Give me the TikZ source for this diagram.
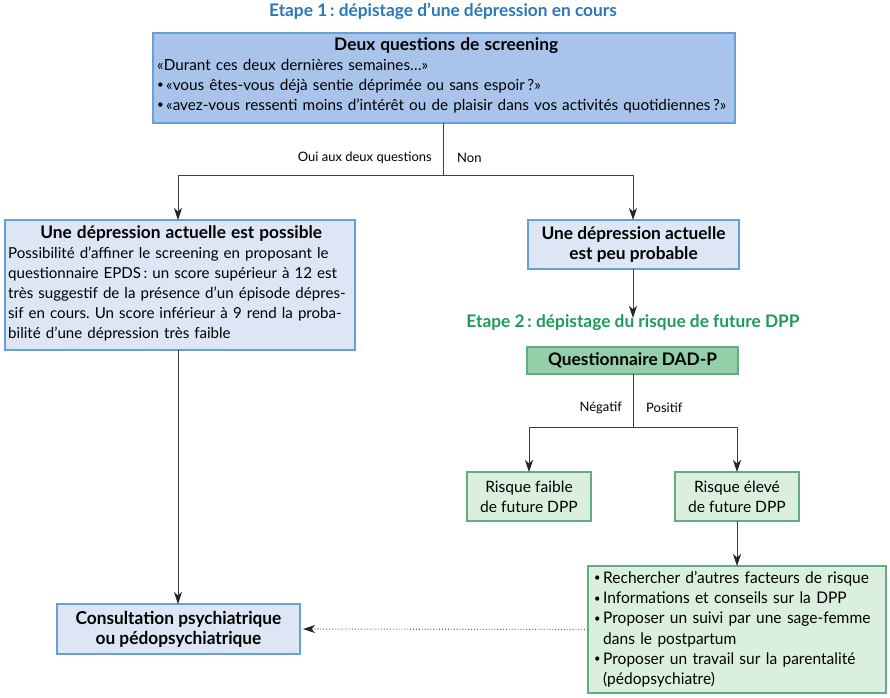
\documentclass[tikz,border=0pt]{standalone}
\usepackage{fontspec}
\setmainfont{Lato}
\newfontfamily\condfont[FakeStretch=0.97]{Lato}
\usetikzlibrary{arrows.meta}
\frenchspacing
\newcommand\bul{\makebox[9pt][l]{\raisebox{1.6pt}{\fontsize{11.5}{11}\selectfont•}}}
\definecolor{tblue}{HTML}{2A78BA}
\definecolor{tgreen}{HTML}{1E9A5C}
\definecolor{bfill}{HTML}{A9C4EA}
\definecolor{bfilll}{HTML}{DDE6F5}
\definecolor{bline}{HTML}{6A9FD6}
\definecolor{gfill}{HTML}{93CFA9}
\definecolor{gfilll}{HTML}{DBEFDF}
\definecolor{gline}{HTML}{62AE80}
\tikzset{
  box/.style={draw, line width=1.4pt, inner sep=0pt, outer sep=0pt},
  bluebox/.style={box, draw=bline, fill=bfill},
  lbluebox/.style={box, draw=bline, fill=bfilll},
  greenbox/.style={box, draw=gline, fill=gfill},
  lgreenbox/.style={box, draw=gline, fill=gfilll},
  conn/.style={line width=0.9pt, draw=black!75},
  arr/.style={conn, -{Stealth[length=12pt,width=8pt,inset=3.5pt,black!85]}},
  lab/.style={inner sep=0pt, font=\fontsize{13}{15}\selectfont},
  ttl/.style={inner sep=0pt, font=\fontsize{17.3}{20}\selectfont\bfseries},
  bigb/.style={font=\fontsize{17.3}{20}\selectfont\bfseries},
}
\begin{document}
\begin{tikzpicture}[x=1pt,y=-1pt]
\useasboundingbox (0,0) rectangle (890,697);
\fill[white] (0,0) rectangle (890,697);

\node[ttl, text=tblue] (t1) at (443,11) {Etape 1\,: dépistage d’une dépression en cours};

\node[bluebox, minimum width=582pt, minimum height=90pt] (q) at (444,78) {};
\node[inner sep=0pt, text width=578pt, align=left, font=\fontsize{15.3}{20}\selectfont, anchor=north west] (qt) at (157,37)
 {{\centering\fontsize{17.3}{19}\selectfont\bfseries Deux questions de screening\par}
 «Durant ces deux dernières semaines…»\\
 \bul«vous êtes-vous déjà sentie déprimée ou sans espoir\,?»\\
 \bul«avez-vous ressenti moins d’intérêt ou de plaisir dans vos activités quotidiennes\,?»};

\node[lbluebox, minimum width=350pt, minimum height=130pt] (poss) at (180,285) {};
\node[inner sep=0pt, text width=346pt, align=left, font=\fontsize{15.1}{20}\selectfont, anchor=north west] (posst) at (8,225)
 {{\centering\fontsize{17.3}{20}\selectfont\bfseries Une dépression actuelle est possible\par}
 Possibilité d’affiner le screening en proposant le\\
 questionnaire EPDS\,: un score supérieur à 12 est\\
 très suggestif de la présence d’un épisode dépres-\\
 sif en cours. Un score inférieur à 9 rend la proba-\\
 bilité d’une dépression très faible};

\node[lbluebox, bigb, minimum width=211pt, minimum height=49pt, align=center] (peu) at (633.5,244.5)
 {Une dépression actuelle\\est peu probable};

\node[ttl, text=tgreen] (t2) at (633,323) {Etape 2\,: dépistage du risque de future DPP};

\node[greenbox, bigb, minimum width=211pt, minimum height=27pt] (dad) at (632.5,360.5) {Questionnaire DAD-P};

\node[lgreenbox, minimum width=124pt, minimum height=49pt, align=center, font=\fontsize{15.6}{20}\selectfont] (faible) at (529,496.5)
 {Risque faible\\de future DPP};
\node[lgreenbox, minimum width=124pt, minimum height=49pt, align=center, font=\fontsize{15.6}{20}\selectfont] (eleve) at (737,496.5)
 {Risque élevé\\de future DPP};

\node[lgreenbox, minimum width=298pt, minimum height=127pt] (act) at (737,629.5) {};
\node[inner sep=0pt, text width=292pt, align=left, font=\condfont\fontsize{16}{20.2}\selectfont, anchor=north west] (actt) at (594,571)
 {\bul Rechercher d’autres facteurs de risque\\
 \bul Informations et conseils sur la DPP\\
 \bul Proposer un suivi par une sage-femme\\
 \hphantom{\bul}dans le postpartum\\
 \bul Proposer un travail sur la parentalité\\
 \hphantom{\bul}(pédopsychiatre)};

\node[lbluebox, minimum width=243pt, minimum height=50pt, align=center, font=\condfont\fontsize{17.8}{20}\selectfont\bfseries] (cons) at (178.5,629)
 {Consultation psychiatrique\\ou pédopsychiatrique};

% connectors
\coordinate (j1) at (443,175);
\coordinate (j1l) at (178,175);
\coordinate (j1r) at (633,175);
\draw[conn] (q.south -| j1) -- (j1);
\draw[arr] (j1) -- (j1l) -- (poss.north -| j1l);
\draw[arr] (j1) -- (j1r) -- (peu.north -| j1r);
\node[lab, anchor=east] (oui) at (432,158) {Oui aux deux questions};
\node[lab, anchor=west] (non) at (457,158) {Non};

\draw[arr] (peu.south -| j1r) -- ([yshift=-3pt]t2.north -| j1r);

\coordinate (j2) at (633,427);
\coordinate (j2l) at (529,427);
\coordinate (j2r) at (737,427);
\draw[conn] (dad.south -| j2) -- (j2);
\draw[arr] (j2) -- (j2l) -- (faible.north -| j2l);
\draw[arr] (j2) -- (j2r) -- (eleve.north -| j2r);
\node[lab, anchor=east] (neg) at (622,408) {Négatif};
\node[lab, anchor=west] (pos) at (646,408) {Positif};

\draw[arr] (eleve.south) -- (act.north);
\draw[arr] (poss.south -| j1l) -- (cons.north -| j1l);
\draw[conn, dotted, line width=1.1pt, draw=black!60, -{Stealth[length=12pt,width=8pt,inset=3.5pt,black!85]}] (act.west) -- ([xshift=3pt]cons.east);
\end{tikzpicture}
\end{document}
